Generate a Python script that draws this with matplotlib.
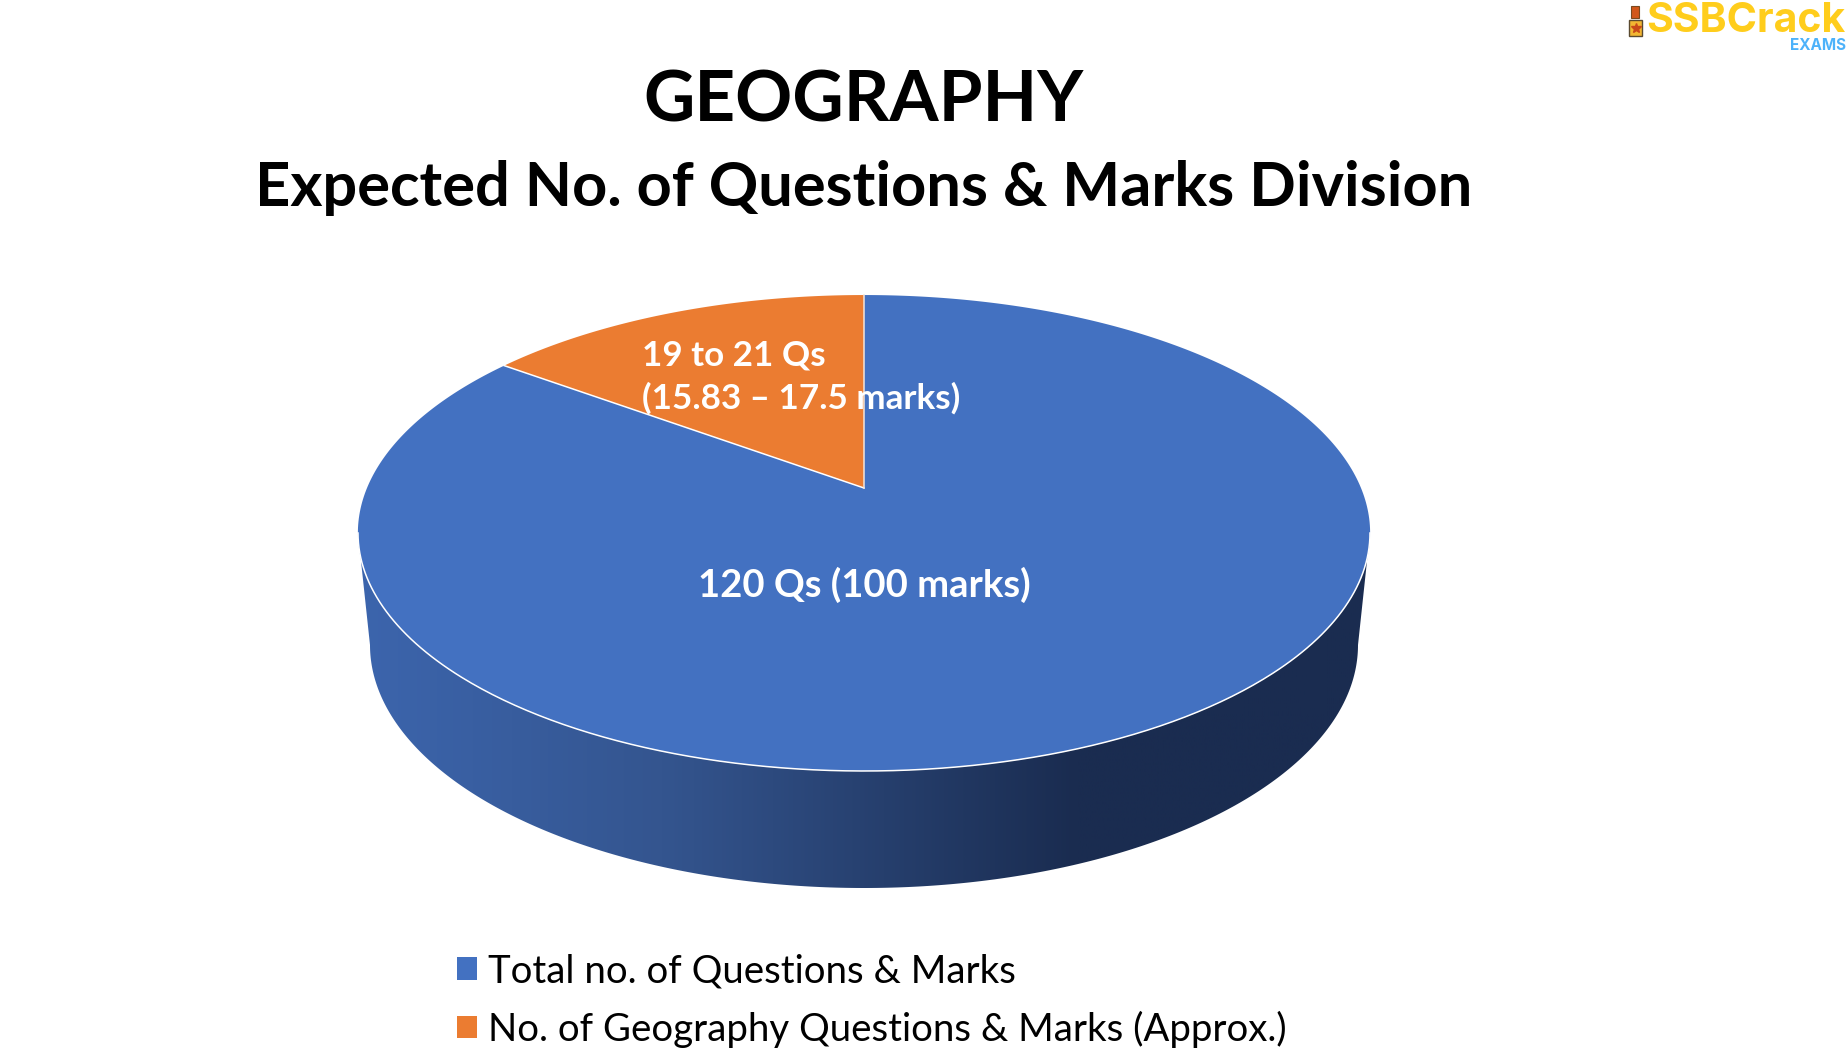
import numpy as np
import matplotlib
matplotlib.use("Agg")
import matplotlib.pyplot as plt
from matplotlib.colors import LinearSegmentedColormap
from matplotlib.patches import Polygon, Rectangle

plt.rcParams['font.family'] = ['Lato', 'DejaVu Sans']

# data
title = "GEOGRAPHY"
subtitle = "Expected No. of Questions & Marks Division"
categories = ["Total no. of Questions & Marks",
              "No. of Geography Questions & Marks (Approx.)"]
marks = [100, 17.5]
labels = ["120 Qs (100 marks)", "19 to 21 Qs\n(15.83 \u2013 17.5 marks)"]
colors = ["#4371C1", "#EB7C31"]

W, H = 1846, 1056
fig = plt.figure(figsize=(W / 100, H / 100), dpi=100)
ax = fig.add_axes([0, 0, 1, 1])
ax.set_xlim(0, W)
ax.set_ylim(H, 0)
ax.axis("off")

CX = 864


# pie angle (clockwise from 12 o'clock) to picture position, tilted with perspective
def project(theta, r=1.0):
    u = r * np.sin(theta)
    v = r * np.cos(theta)
    d = 0.189 * v + 1
    return CX + 497 * u / d, (488 - 137.2 * v) / d


# 1) side wall of the disc, gradient clipped to the outline
t = np.linspace(np.pi, 0, 300)
top_x = CX + 506 * np.cos(t)
top_y = 533 + 238 * np.sin(t)
low_x = CX + 494 * np.cos(t[::-1])
low_y = 645 + 243 * np.sin(t[::-1])
wall = Polygon(np.column_stack([np.r_[top_x, low_x], np.r_[top_y, low_y]]),
               closed=True, fc="none", ec="none", transform=ax.transData)
ax.add_patch(wall)
cmap = LinearSegmentedColormap.from_list("side", [(0, "#3C65AD"), (0.3, "#34558F"),
                                                   (0.71, "#1A2C50"), (1, "#1A2C50")])
grad = ax.imshow(np.linspace(0, 1, 512)[None, :], extent=[358, 1370, 900, 530],
                 cmap=cmap, aspect="auto", zorder=1)
grad.set_clip_path(wall)
ax.set_xlim(0, W)
ax.set_ylim(H, 0)

# 2) top face, wedges from the values (second slice ends at 12 o'clock)
frac = np.array(marks) / np.sum(marks)
start = -2 * np.pi * frac[1]
th = np.linspace(0, 2 * np.pi * frac[0], 400)
x0, y0 = project(0, 0)
xs, ys = project(th)
ax.fill(np.r_[x0, xs], np.r_[y0, ys], color=colors[0], lw=0, zorder=2)
th2 = np.linspace(start, 0, 80)
xs2, ys2 = project(th2)
ax.fill(np.r_[x0, xs2], np.r_[y0, ys2], color=colors[1], lw=0, zorder=3)

# white seams
ax.plot(top_x, top_y, color="white", lw=1.1, zorder=4)
ax.plot([x0, xs2[0]], [y0, ys2[0]], color="white", lw=1.1, zorder=4)
ax.plot([x0, xs2[-1]], [y0, ys2[-1]], color="#F4E4D8", lw=1.1, zorder=4)

# 3) texts
ax.text(864, 101, title, ha="center", va="center", fontsize=51, fontweight="bold", color="black")
ax.text(864, 188, subtitle, ha="center", va="center", fontsize=44.2, fontweight="bold", color="black")
ax.text(864, 585, labels[0], ha="center", va="center", fontsize=27.5, fontweight="bold", color="white", zorder=5)
ax.text(642, 377, labels[1], ha="left", va="center", fontsize=25.2, fontweight="bold", color="white",
        linespacing=1.42, zorder=5)

# 4) legend
handles = [Rectangle((0, 0), 1, 1, fc=c, ec="none") for c in colors]
ax.legend(handles, categories, loc="upper left", bbox_to_anchor=(457 / W, 1 - 953 / H),
          frameon=False, fontsize=27.6, handlelength=0.52, handleheight=0.52, handletextpad=0.3,
          labelspacing=0.56, borderpad=0, borderaxespad=0)

# 5) logo top right
ax.add_patch(Rectangle((1631, 6), 8, 12, fc="#D2571A", ec="#7A4A20", lw=0.8))
ax.add_patch(Rectangle((1629, 20), 13, 16, fc="#F2B632", ec="#5A4A30", lw=1))
ax.plot([1635.5], [28], marker="*", ms=7, color="#C8491A")
ax.text(1845, 21, "SSBCrack", ha="right", va="center", fontsize=29.5, fontweight="bold",
        family="Inter", color="#FFCD1C")
ax.text(1846, 45, "EXAMS", ha="right", va="center", fontsize=11, fontweight="bold",
        family="Inter", color="#4DB2FA")

fig.savefig("out.png", dpi=100)
